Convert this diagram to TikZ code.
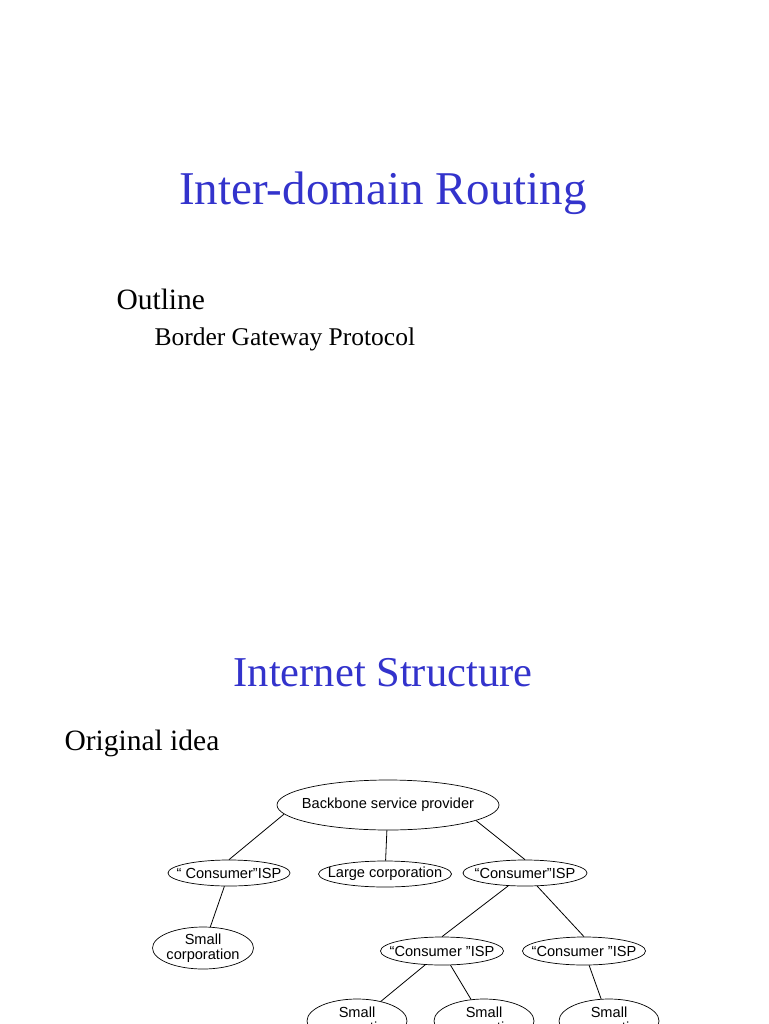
\documentclass[tikz,border=0pt]{standalone}
\usepackage{fontspec}
\setmainfont{Liberation Serif}
\newfontfamily\arial{Liberation Sans}
\usetikzlibrary{shapes.geometric}
\definecolor{ttl}{HTML}{3333CC}
\begin{document}
\begin{tikzpicture}[x=1pt,y=-1pt,
  ell/.style={draw,ellipse,inner sep=0pt,line width=0.7pt},
  lbl/.style={font=\arial\fontsize{14.6}{15.5}\selectfont,align=center,inner sep=0pt},
  conn/.style={draw,line width=0.8pt}]
\useasboundingbox (0,0) rectangle (768,1024);
\clip (0,0) rectangle (768,1024);
\fill[white] (0,0) rectangle (768,1024);
\node[text=ttl,font=\fontsize{47}{52}\selectfont] (t1) at (383,193) {Inter-domain Routing};
\node[anchor=west,font=\fontsize{29.5}{33}\selectfont] (o1) at (113,299) {Outline};
\node[anchor=west,font=\fontsize{25.5}{29}\selectfont] (o2) at (151,339) {Border Gateway Protocol};
\node[text=ttl,font=\fontsize{42.5}{48}\selectfont] (t2) at (383,673) {Internet Structure};
\node[anchor=west,font=\fontsize{29.5}{33}\selectfont] (o3) at (61,743) {Original idea};

\node[ell,minimum width=222,minimum height=50] (bb) at (388,805) {};
\node[ell,minimum width=122,minimum height=26] (c1) at (229,873) {};
\node[ell,minimum width=133,minimum height=26] (lc) at (385,874) {};
\node[ell,minimum width=124,minimum height=26] (c2) at (525,873) {};
\node[ell,minimum width=101,minimum height=42] (s1) at (203,948) {};
\node[ell,minimum width=123,minimum height=28] (c3) at (442,951) {};
\node[ell,minimum width=123,minimum height=28] (c4) at (584,951) {};
\node[ell,minimum width=100,minimum height=44] (s2) at (357,1021) {};
\node[ell,minimum width=100,minimum height=44] (s3) at (484,1021) {};
\node[ell,minimum width=100,minimum height=44] (s4) at (609,1021) {};

\node[lbl] (bbt) at (bb) {Backbone service provider};
\node[lbl] (c1t) at (c1) {“ Consumer”ISP};
\node[lbl] (lct) at (lc) {Large corporation};
\node[lbl] (c2t) at (c2) {“Consumer”ISP};
\node[lbl] (s1t) at (s1) {Small\\corporation};
\node[lbl] (c3t) at (c3) {“Consumer ”ISP};
\node[lbl] (c4t) at (c4) {“Consumer ”ISP};
\node[lbl] (s2t) at (s2) {Small\\corporation};
\node[lbl] (s3t) at (s3) {Small\\corporation};
\node[lbl] (s4t) at (s4) {Small\\corporation};

\draw[conn] (bb.185) -- (c1.north);
\draw[conn] (bb) -- (lc);
\draw[conn] (bb.350) -- (c2.north);
\draw[conn] (c1) -- (s1);
\draw[conn] (c2) -- (c3.north);
\draw[conn] (c2) -- (c4.north);
\draw[conn] (c3) -- (s2);
\draw[conn] (c3) -- (s3);
\draw[conn] (c4) -- (s4);
\end{tikzpicture}
\end{document}
